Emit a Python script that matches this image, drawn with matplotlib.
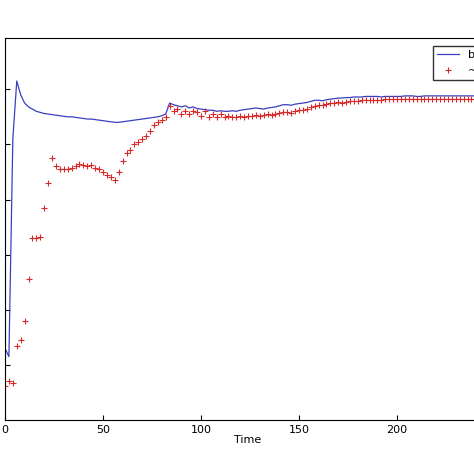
import numpy as np
import matplotlib
matplotlib.use("Agg")
import matplotlib.pyplot as plt

t = list(range(0, 300, 2))
blue = [1.3,1.15,5.1,6.15,5.9,5.75,5.68,5.64,5.6,5.58,5.56,5.55,5.54,5.53,5.52,5.51,5.5,5.5,5.49,5.48,
        5.47,5.46,5.46,5.45,5.44,5.43,5.42,5.41,5.4,5.4,5.41,5.42,5.43,5.44,5.45,5.46,5.47,5.48,5.49,5.5,
        5.52,5.55,5.75,5.72,5.7,5.68,5.7,5.66,5.68,5.65,5.64,5.63,5.62,5.62,5.6,5.61,5.6,5.6,5.61,5.6,
        5.62,5.63,5.64,5.65,5.66,5.65,5.64,5.66,5.67,5.68,5.7,5.72,5.72,5.71,5.73,5.74,5.75,5.76,5.78,5.8,
        5.8,5.79,5.81,5.82,5.83,5.84,5.84,5.85,5.85,5.86,5.86,5.86,5.87,5.87,5.87,5.87,5.86,5.87,5.87,5.87,
        5.87,5.87,5.88,5.88,5.88,5.87,5.87,5.88,5.88,5.88,5.88,5.88,5.88,5.88,5.88,5.88,5.88,5.88,5.88,5.88,
        5.88,5.88,5.88,5.88,5.88,5.88,5.88,5.88,5.88,5.88,5.88,5.88,5.88,5.88,5.88,5.88,5.88,5.88,5.88,5.88,
        5.88,5.88,5.88,5.88,5.88,5.88,5.88,5.88,5.88,5.88]
red = [0.62,0.7,0.68,1.35,1.45,1.8,2.55,3.3,3.3,3.32,3.85,4.3,4.75,4.6,4.55,4.55,4.55,4.58,4.6,4.65,
       4.62,4.6,4.62,4.58,4.55,4.5,4.45,4.4,4.35,4.5,4.7,4.85,4.9,5.0,5.05,5.1,5.15,5.25,5.35,5.4,
       5.45,5.5,5.7,5.6,5.65,5.55,5.6,5.55,5.6,5.58,5.52,5.6,5.5,5.55,5.5,5.55,5.5,5.52,5.5,5.5,
       5.51,5.5,5.52,5.52,5.53,5.52,5.54,5.55,5.54,5.56,5.57,5.58,5.58,5.57,5.6,5.62,5.63,5.65,5.68,5.7,
       5.72,5.72,5.74,5.75,5.75,5.76,5.75,5.77,5.78,5.78,5.79,5.8,5.8,5.8,5.81,5.8,5.81,5.82,5.82,5.82,
       5.82,5.83,5.83,5.83,5.83,5.82,5.83,5.83,5.83,5.83,5.83,5.83,5.83,5.83,5.83,5.83,5.83,5.83,5.83,5.83,
       5.83,5.83,5.83,5.83,5.83,5.83,5.83,5.83,5.83,5.83,5.83,5.83,5.83,5.83,5.83,5.83,5.83,5.83,5.83,5.83,
       5.83,5.83,5.83,5.83,5.83,5.83,5.83,5.83,5.83,5.83]
xticks = [0, 50, 100, 150, 200, 250]
labels = ["best", "~avg"]

fig = plt.figure(figsize=(4.74, 4.74), dpi=100)
ax = fig.add_axes([5/474, 54/474, 588/474, 382/474])
ax.plot(t, blue, color="#3a3fbf", lw=0.9, label=labels[0])
ax.plot(t, red, ls="none", marker="+", ms=5, mew=0.8, color="#d82828", label=labels[1])
ax.set_xlim(0, 300)
ax.set_ylim(0, 6.93)
ax.set_xticks(xticks)
ax.set_yticks([1, 2, 3, 4, 5, 6])
ax.set_yticklabels([])
ax.tick_params(labelsize=8, direction="in")
ax.set_xlabel("Time", fontsize=8, labelpad=3)
ax.xaxis.set_label_coords(243/588, -0.04)
ax.legend(loc="upper left", bbox_to_anchor=(427/474, 1 - 40/474), bbox_transform=fig.transFigure,
          fontsize=8, frameon=True, fancybox=False, edgecolor="black")
fig.savefig("out.png", dpi=100)
